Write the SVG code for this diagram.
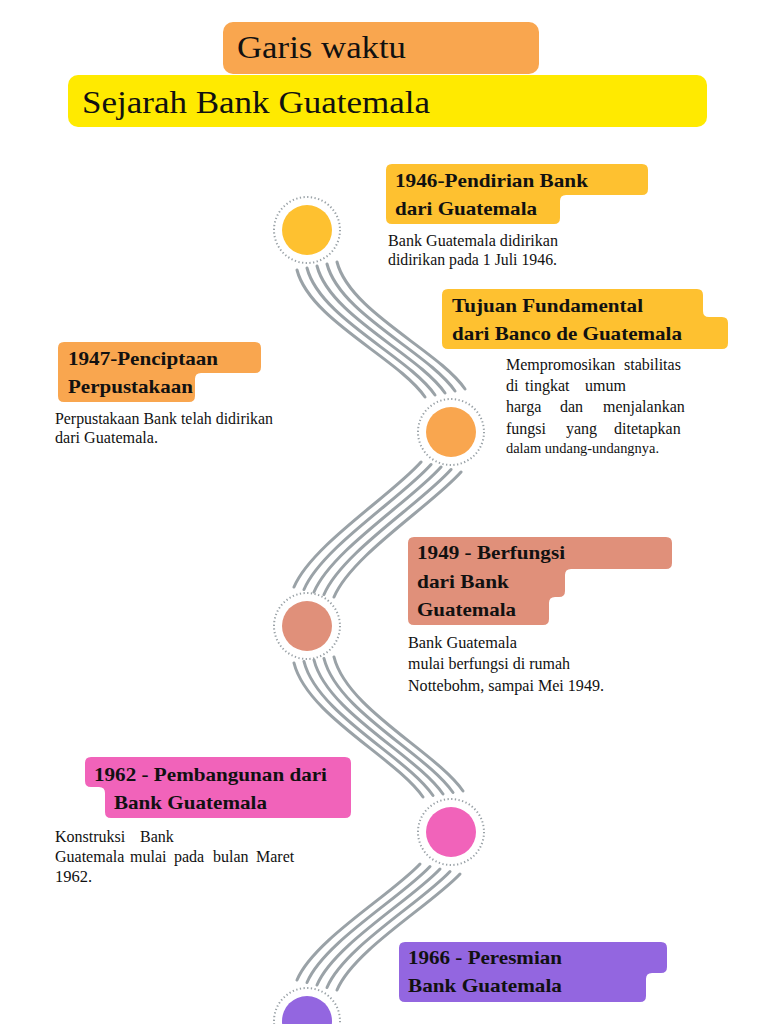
<svg xmlns="http://www.w3.org/2000/svg" xmlns:xlink="http://www.w3.org/1999/xlink" width="768" height="1024" viewBox="0 0 768 1024">
<style>
.wave{fill:none;stroke:#9AA2A7;stroke-width:3;stroke-linecap:round}
.ring{fill:none;stroke:#9AA2A7;stroke-width:2;stroke-dasharray:1.3 2.4}
.h{font-family:"Liberation Serif","Times New Roman",serif;font-weight:bold;font-size:19px;fill:#111}
.d{font-family:"Liberation Serif","Times New Roman",serif;font-size:16px;fill:#111}
.t{font-family:"Liberation Serif","Times New Roman",serif;font-size:32px;fill:#111}
</style>
<defs>
<path id="wA" d="M297,270 C310,320 398,358 425,397"/>
<path id="wB" d="M421,462 C392,495 312,545 294,587"/>
<path id="wC" d="M294,663 C307,715 396,758 423,797"/>
<path id="wD" d="M420,864 C391,895 314,940 297,980"/>
</defs>
<rect width="768" height="1024" fill="#fff"/>

<g id="title">
<rect x="223" y="22" width="316" height="52" rx="10" fill="#F9A64F"/>
<text class="t" x="237" y="58" textLength="169" lengthAdjust="spacingAndGlyphs">Garis waktu</text>
<rect x="68" y="75" width="639" height="52" rx="10" fill="#FFEA00"/>
<text class="t" x="82" y="113" textLength="348" lengthAdjust="spacingAndGlyphs">Sejarah Bank Guatemala</text>
</g>

<g id="connectors">
<use xlink:href="#wA" class="wave"/>
<use xlink:href="#wA" class="wave" transform="translate(10,-2)"/>
<use xlink:href="#wA" class="wave" transform="translate(20,-4)"/>
<use xlink:href="#wA" class="wave" transform="translate(30,-6)"/>
<use xlink:href="#wA" class="wave" transform="translate(40,-8)"/>
<use xlink:href="#wB" class="wave"/>
<use xlink:href="#wB" class="wave" transform="translate(10,2.5)"/>
<use xlink:href="#wB" class="wave" transform="translate(20,5)"/>
<use xlink:href="#wB" class="wave" transform="translate(30,7.5)"/>
<use xlink:href="#wB" class="wave" transform="translate(40,10)"/>
<use xlink:href="#wC" class="wave"/>
<use xlink:href="#wC" class="wave" transform="translate(10,-1.5)"/>
<use xlink:href="#wC" class="wave" transform="translate(20,-3)"/>
<use xlink:href="#wC" class="wave" transform="translate(30,-4.5)"/>
<use xlink:href="#wC" class="wave" transform="translate(40,-6)"/>
<use xlink:href="#wD" class="wave"/>
<use xlink:href="#wD" class="wave" transform="translate(10,2.5)"/>
<use xlink:href="#wD" class="wave" transform="translate(20,5)"/>
<use xlink:href="#wD" class="wave" transform="translate(30,7.5)"/>
<use xlink:href="#wD" class="wave" transform="translate(40,10)"/>
</g>

<g id="node-1946">
<circle class="ring" cx="307" cy="230" r="33"/>
<circle cx="307" cy="230" r="25" fill="#FEC130"/>
<path d="M392,164 H642 Q648,164 648,170 V189 Q648,195 642,195 H566 Q560,195 560,201 V218 Q560,224 554,224 H392 Q386,224 386,218 V170 Q386,164 392,164 Z" fill="#FEC130"/>
<text class="h" x="395" y="187" textLength="193" lengthAdjust="spacingAndGlyphs">1946-Pendirian Bank</text>
<text class="h" x="395" y="215" textLength="142" lengthAdjust="spacingAndGlyphs">dari Guatemala</text>
<text class="d" x="388" y="246" textLength="170" lengthAdjust="spacingAndGlyphs">Bank Guatemala didirikan</text>
<text class="d" x="388" y="265" textLength="169" lengthAdjust="spacingAndGlyphs">didirikan pada 1 Juli 1946.</text>
</g>

<g id="node-tujuan">
<path d="M448,289 H697 Q703,289 703,295 V311 Q703,317 709,317 H722 Q728,317 728,323 V343 Q728,349 722,349 H448 Q442,349 442,343 V295 Q442,289 448,289 Z" fill="#FEC130"/>
<text class="h" x="452" y="312" textLength="191" lengthAdjust="spacingAndGlyphs">Tujuan Fundamental</text>
<text class="h" x="452" y="340" textLength="230" lengthAdjust="spacingAndGlyphs">dari Banco de Guatemala</text>
<text class="d" y="370"><tspan x="506">Mempromosikan</tspan><tspan x="624">stabilitas</tspan></text>
<text class="d" y="391"><tspan x="506">di</tspan><tspan x="525">tingkat</tspan><tspan x="585">umum</tspan></text>
<text class="d" y="412"><tspan x="506">harga</tspan><tspan x="560">dan</tspan><tspan x="603">menjalankan</tspan></text>
<text class="d" y="434"><tspan x="506">fungsi</tspan><tspan x="566">yang</tspan><tspan x="614">ditetapkan</tspan></text>
<text class="d" x="506" y="453" style="font-size:14px" textLength="153" lengthAdjust="spacingAndGlyphs">dalam undang-undangnya.</text>
</g>

<g id="node-1947">
<circle class="ring" cx="451" cy="432" r="33"/>
<circle cx="451" cy="432" r="25" fill="#F9A64F"/>
<path d="M64,342 H255 Q261,342 261,348 V367 Q261,373 255,373 H201 Q195,373 195,379 V396 Q195,402 189,402 H64 Q58,402 58,396 V348 Q58,342 64,342 Z" fill="#F9A64F"/>
<text class="h" x="68" y="365" textLength="150" lengthAdjust="spacingAndGlyphs">1947-Penciptaan</text>
<text class="h" x="68" y="393" textLength="125" lengthAdjust="spacingAndGlyphs">Perpustakaan</text>
<text class="d" x="55" y="424" textLength="218" lengthAdjust="spacingAndGlyphs">Perpustakaan Bank telah didirikan</text>
<text class="d" x="55" y="443" textLength="103" lengthAdjust="spacingAndGlyphs">dari Guatemala.</text>
</g>

<g id="node-1949">
<circle class="ring" cx="307" cy="626" r="33"/>
<circle cx="307" cy="626" r="25" fill="#E0907A"/>
<path d="M414,537 H666 Q672,537 672,543 V563 Q672,569 666,569 H571 Q565,569 565,575 V591 Q565,597 559,597 H555 Q549,597 549,603 V619 Q549,625 543,625 H414 Q408,625 408,619 V543 Q408,537 414,537 Z" fill="#E0907A"/>
<text class="h" x="417" y="559" textLength="148" lengthAdjust="spacingAndGlyphs">1949 - Berfungsi</text>
<text class="h" x="417" y="588" textLength="92" lengthAdjust="spacingAndGlyphs">dari Bank</text>
<text class="h" x="417" y="616" textLength="99" lengthAdjust="spacingAndGlyphs">Guatemala</text>
<text class="d" x="408" y="648" textLength="109" lengthAdjust="spacingAndGlyphs">Bank Guatemala</text>
<text class="d" x="408" y="669" textLength="162" lengthAdjust="spacingAndGlyphs">mulai berfungsi di rumah</text>
<text class="d" x="408" y="691" textLength="196" lengthAdjust="spacingAndGlyphs">Nottebohm, sampai Mei 1949.</text>
</g>

<g id="node-1962">
<circle class="ring" cx="451" cy="832" r="33"/>
<circle cx="451" cy="832" r="25" fill="#F163BA"/>
<path d="M91,757 H345 Q351,757 351,763 V812 Q351,818 345,818 H111 Q105,818 105,812 V793 Q105,787 99,787 H91 Q85,787 85,781 V763 Q85,757 91,757 Z" fill="#F163BA"/>
<text class="h" x="94" y="781" textLength="233" lengthAdjust="spacingAndGlyphs">1962 - Pembangunan dari</text>
<text class="h" x="114" y="809" textLength="153" lengthAdjust="spacingAndGlyphs">Bank Guatemala</text>
<text class="d" y="842"><tspan x="55">Konstruksi</tspan><tspan x="140">Bank</tspan></text>
<text class="d" y="862"><tspan x="55">Guatemala</tspan><tspan x="130">mulai</tspan><tspan x="174">pada</tspan><tspan x="213">bulan</tspan><tspan x="256">Maret</tspan></text>
<text class="d" x="55" y="882" style="font-size:16.5px">1962.</text>
</g>

<g id="node-1966">
<circle class="ring" cx="307" cy="1021" r="33"/>
<circle cx="307" cy="1021" r="25" fill="#9366E0"/>
<path d="M405,942 H661 Q667,942 667,948 V967 Q667,973 661,973 H652 Q646,973 646,979 V996 Q646,1002 640,1002 H405 Q399,1002 399,996 V948 Q399,942 405,942 Z" fill="#9366E0"/>
<text class="h" x="408" y="964" textLength="154" lengthAdjust="spacingAndGlyphs">1966 - Peresmian</text>
<text class="h" x="408" y="992" textLength="154" lengthAdjust="spacingAndGlyphs">Bank Guatemala</text>
</g>
</svg>
